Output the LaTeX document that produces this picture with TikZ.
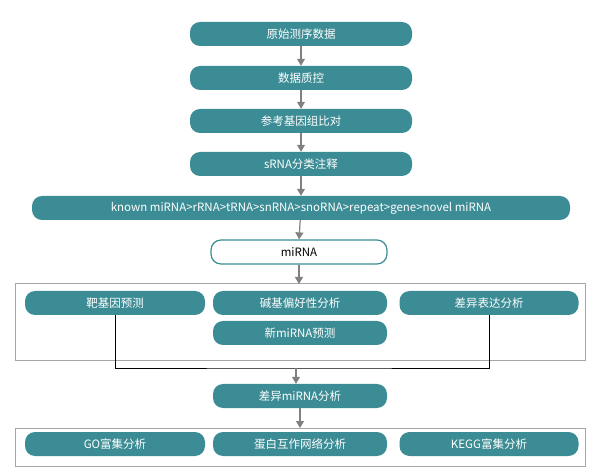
\documentclass[tikz,border=0pt]{standalone}
\usepackage{fontspec}
\setmainfont{Noto Sans CJK SC}
\usetikzlibrary{arrows.meta}
\definecolor{teal1}{HTML}{3B8C94}
\definecolor{arrg}{HTML}{808080}
\tikzset{
 box/.style={fill=teal1,rounded corners=10pt,text=white,font=\fontsize{11.5}{13}\selectfont,minimum height=24pt,inner sep=0pt},
 wbox/.style={draw=teal1,line width=1.2pt,fill=white,rounded corners=10pt,text=black,font=\fontsize{11.5}{13}\selectfont,minimum height=24pt,inner sep=0pt},
 arr/.style={draw=arrg,line width=1.2pt,-{Triangle[length=7pt,width=8pt]}},
 frame/.style={draw=black!35,line width=1pt},
 joinline/.style={draw=black,line width=0.8pt}
}
\begin{document}
\begin{tikzpicture}[x=1pt,y=-1pt]
\useasboundingbox (0,0) rectangle (600,470);
\draw[frame] (15,284) rectangle (585,361);
\draw[frame] (15,428) rectangle (585,466);
\node[box,minimum width=222pt] (a) at (301,34) {原始测序数据};
\node[box,minimum width=222pt] (b) at (301,78) {数据质控};
\node[box,minimum width=222pt] (c) at (301,121) {参考基因组比对};
\node[box,minimum width=222pt] (d) at (301,164) {sRNA分类注释};
\node[box,minimum width=538pt] (e) at (301,208) {known miRNA>rRNA>tRNA>snRNA>snoRNA>repeat>gene>novel miRNA};
\node[wbox,minimum width=176pt] (f) at (299,252) {miRNA};
\node[box,minimum width=180pt] (g1) at (115,303) {靶基因预测};
\node[box,minimum width=174pt] (g2) at (300,303) {碱基偏好性分析};
\node[box,minimum width=179pt] (g3) at (489,303) {差异表达分析};
\node[box,minimum width=174pt] (g4) at (300,333) {新miRNA预测};
\node[box,minimum width=174pt] (h) at (300,396) {差异miRNA分析};
\node[box,minimum width=180pt] (k1) at (115,444) {GO富集分析};
\node[box,minimum width=174pt] (k2) at (300,444) {蛋白互作网络分析};
\node[box,minimum width=179pt] (k3) at (489,444) {KEGG富集分析};
\draw[arr] (a) -- (b);
\draw[arr] (b) -- (c);
\draw[arr] (c) -- (d);
\draw[arr] (d) -- (e);
\draw[arr] (e) -- (f.north);
\draw[arr] (f) -- (299,284);
\coordinate (j) at (296,368);
\draw[joinline] (g1.south) |- (j) -| (g3.south);
\draw[arr] (j) -- (h.north-|j);
\draw[arr] (h) -- (300,428);
\end{tikzpicture}
\end{document}
